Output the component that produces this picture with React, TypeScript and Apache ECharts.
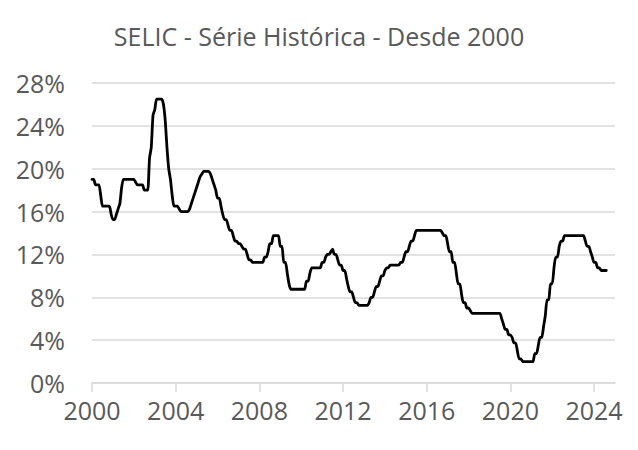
import { useEffect, useRef } from "react";
import * as echarts from "echarts";

const TITLE = "SELIC - Série Histórica - Desde 2000";
const START_YEAR = 2000;

// Monthly SELIC target (% a.a.), Jan of each year through Dec
const selic2000s = [
  19, 19, 18.5, 18.5, 18.5, 17.5, 16.5, 16.5, 16.5, 16.5, 16.5, 15.75,
  15.25, 15.25, 15.75, 16.25, 16.75, 18.25, 19, 19, 19, 19, 19, 19,
  19, 18.75, 18.5, 18.5, 18.5, 18.5, 18, 18, 18, 21, 22, 25,
  25.5, 26.5, 26.5, 26.5, 26.5, 26, 24.5, 22, 20, 19, 17.5, 16.5,
  16.5, 16.5, 16.25, 16, 16, 16, 16, 16, 16.25, 16.75, 17.25, 17.75,
  18.25, 18.75, 19.25, 19.5, 19.75, 19.75, 19.75, 19.75, 19.5, 19, 18.5, 18,
  17.25, 17.25, 16.5, 15.75, 15.25, 15.25, 14.75, 14.25, 14.25, 13.75, 13.25, 13.25,
  13, 13, 12.75, 12.5, 12.5, 12, 11.5, 11.5, 11.25, 11.25, 11.25, 11.25,
  11.25, 11.25, 11.25, 11.75, 11.75, 12.25, 13, 13, 13.75, 13.75, 13.75, 13.75,
  12.75, 12.75, 11.25, 11.25, 10.25, 9.25, 8.75, 8.75, 8.75, 8.75, 8.75, 8.75,
];

const selic2010s = [
  8.75, 8.75, 8.75, 9.5, 9.5, 10.25, 10.75, 10.75, 10.75, 10.75, 10.75, 10.75,
  11.25, 11.25, 11.75, 12, 12, 12.25, 12.5, 12, 12, 11.5, 11, 11,
  10.5, 10.5, 9.75, 9, 8.5, 8.5, 8, 7.5, 7.5, 7.25, 7.25, 7.25,
  7.25, 7.25, 7.25, 7.5, 8, 8, 8.5, 9, 9, 9.5, 10, 10,
  10.5, 10.75, 10.75, 11, 11, 11, 11, 11, 11, 11.25, 11.25, 11.75,
  12.25, 12.25, 12.75, 13.25, 13.25, 13.75, 14.25, 14.25, 14.25, 14.25, 14.25, 14.25,
  14.25, 14.25, 14.25, 14.25, 14.25, 14.25, 14.25, 14.25, 14.25, 14, 13.75, 13.75,
  13, 12.25, 12.25, 11.25, 11.25, 10.25, 9.25, 9.25, 8.25, 7.5, 7.5, 7,
  7, 6.75, 6.5, 6.5, 6.5, 6.5, 6.5, 6.5, 6.5, 6.5, 6.5, 6.5,
  6.5, 6.5, 6.5, 6.5, 6.5, 6.5, 6.5, 6, 5.5, 5, 5, 4.5,
];

const selic2020s = [
  4.5, 4.25, 3.75, 3.75, 3, 2.25, 2.25, 2, 2, 2, 2, 2,
  2, 2, 2.75, 2.75, 3.5, 4.25, 4.25, 5.25, 6.25, 7.75, 7.75, 9.25,
  9.25, 10.75, 11.75, 11.75, 12.75, 13.25, 13.25, 13.75, 13.75, 13.75, 13.75, 13.75,
  13.75, 13.75, 13.75, 13.75, 13.75, 13.75, 13.75, 13.25, 12.75, 12.75, 12.25, 11.75,
  11.25, 11.25, 10.75, 10.75, 10.5, 10.5, 10.5, 10.5,
];

const yearTicks = [2000, 2004, 2008, 2012, 2016, 2020, 2024];

export default function App() {
  const ref = useRef<HTMLDivElement>(null);

  useEffect(() => {
    if (!ref.current) return;
    const chart = echarts.init(ref.current, null, { renderer: "svg" });
    const values = [...selic2000s, ...selic2010s, ...selic2020s];
    const data = values.map((v, i) => [START_YEAR + i / 12, v]);
    const font = "'Open Sans', 'Noto Sans', sans-serif";

    chart.setOption({
      animation: false,
      backgroundColor: "#ffffff",
      title: {
        text: TITLE,
        left: "center",
        top: 18,
        textStyle: {
          fontFamily: font,
          fontSize: 25,
          fontWeight: "normal",
          color: "#595959",
        },
      },
      grid: { left: 92, right: 23, top: 83, bottom: 67, containLabel: false },
      xAxis: {
        type: "value",
        min: 2000,
        max: 2025,
        interval: 4,
        axisLine: { show: true, lineStyle: { color: "#d9d9d9", width: 1.5 } },
        axisTick: {
          show: true,
          length: 9,
          customValues: yearTicks,
          lineStyle: { color: "#d9d9d9", width: 1.5 },
        },
        axisLabel: {
          customValues: yearTicks,
          margin: 14,
          fontFamily: font,
          fontSize: 25,
          color: "#595959",
          formatter: (v: number) => String(v),
        },
        splitLine: { show: false },
      },
      yAxis: {
        type: "value",
        min: 0,
        max: 28,
        interval: 4,
        axisLine: { show: false },
        axisTick: { show: false },
        axisLabel: {
          margin: 27,
          fontFamily: font,
          fontSize: 25,
          color: "#595959",
          formatter: "{value}%",
        },
        splitLine: { lineStyle: { color: "#d9d9d9", width: 1.5 } },
      },
      series: [
        {
          type: "line",
          data,
          showSymbol: false,
          symbol: "none",
          smooth: 0.2,
          lineStyle: { color: "#000000", width: 2.8, join: "round", cap: "round" },
        },
      ],
    });

    return () => chart.dispose();
  }, []);

  return (
    <div
      ref={ref}
      style={{ position: "absolute", left: 0, top: 0, width: 638, height: 450, background: "#fff" }}
    />
  );
}
